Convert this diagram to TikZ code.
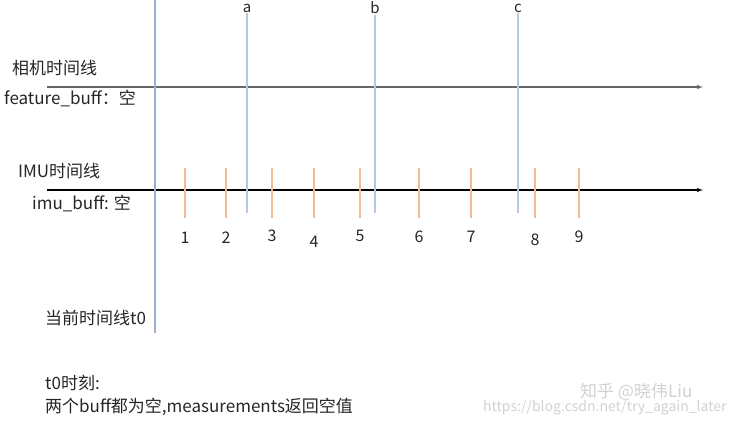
\documentclass[tikz,border=0pt]{standalone}
\usepackage{fontspec}
\setmainfont{Noto Sans CJK SC}
\usetikzlibrary{arrows}
\definecolor{tickorange}{RGB}{240,188,150}
\definecolor{frameblue}{RGB}{180,200,226}
\definecolor{nowblue}{RGB}{158,176,204}
\tikzstyle{axis}=[draw,line width=1.1pt,->,>=latex']
\tikzstyle{imutick}=[draw,tickorange,line width=1.3pt]
\tikzstyle{frame}=[draw,frameblue,line width=1.3pt]
\tikzstyle{txt}=[anchor=west,inner sep=0pt,text=black!85,font=\fontsize{17}{20}\selectfont]
\tikzstyle{num}=[inner sep=0pt,text=black!85,font=\fontsize{16}{19}\selectfont]
\tikzstyle{framelabel}=[inner sep=1pt,text=black!85,font=\fontsize{15}{18}\selectfont]

\begin{document}
\begin{tikzpicture}[x=1pt,y=-1pt]
      \useasboundingbox (0,0) rectangle (744,425);
      % texts
      \node[txt] (camtxt) at (12,68) {相机时间线};
      \node[txt] (featbuff) at (4,98) {feature\_buff：空};
      \node[txt] (imutxt) at (18,171) {IMU时间线};
      \node[txt] (imubuff) at (32,203) {imu\_buff: 空};
      \node[txt] (nowtxt) at (45,318) {当前时间线t0};
      \node[txt] (t0txt) at (45,383) {t0时刻:};
      \node[txt] (result) at (45,407) {两个buff都为空,measurements返回空值};
      \node[txt,text=black!18] (wm1) at (580,392) {知乎 @晓伟Liu};
      \node[txt,text=black!18,font=\fontsize{14}{16}\selectfont] (wm2) at (483,408) {https://blog.csdn.net/try\_again\_later};
      % time lines
      \coordinate (cam start) at (47,87);
      \coordinate (cam end) at (703,87);
      \coordinate (imu start) at (47,190);
      \coordinate (imu end) at (703,190);
      \draw[axis,black!60] (cam start) to (cam end);
      \draw[axis,black] (imu start) to (imu end);
      % imu samples
      \foreach \n/\x/\y in {1/185/238,2/226/238,3/272/236,4/314/242,5/360/236,6/419/237,7/471/237,8/535/240,9/579/237}{
        \coordinate (tick\n top) at (\x,168);
        \coordinate (tick\n bot) at (\x,218);
        \draw[imutick] (tick\n top) to (tick\n bot);
        \node[num] (n\n) at (\x,\y) {\n};
      }
      % camera frames
      \foreach \f/\x in {a/247,b/375,c/518}{
        \node[framelabel] (\f) at (\x,8) {\f};
        \coordinate (\f bot) at (\x,213);
        \draw[frame] (\f) to (\f bot);
      }
      % current time t0
      \coordinate (now top) at (155,0);
      \coordinate (now bot) at (155,333);
      \draw[draw=nowblue,line width=1.3pt] (now top) to (now bot);
\end{tikzpicture}
\end{document}
